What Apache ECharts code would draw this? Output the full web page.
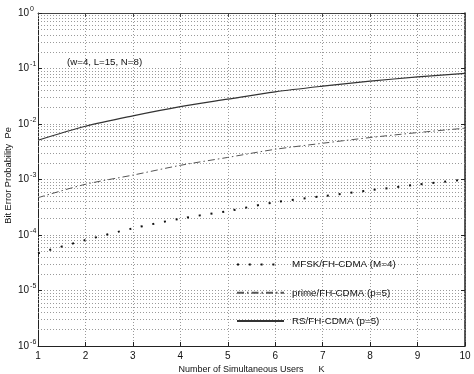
<!DOCTYPE html>
<html>
<head>
<meta charset="utf-8">
<script src="https://cdn.jsdelivr.net/npm/echarts@6/dist/echarts.min.js"></script>
<style>
html,body{margin:0;padding:0;background:#fff;}
#c{width:474px;height:374px;}
</style>
</head>
<body>
<div id="c"></div>
<script>
const K = [1, 2, 3, 4, 5, 6, 7, 8, 9, 10];
const mfsk = [4.7e-5, 8.1e-5, 1.32e-4, 1.97e-4, 2.7e-4, 3.9e-4, 5.0e-4, 6.4e-4, 8.1e-4, 1.0e-3];
const prime = [4.7e-4, 8.2e-4, 1.2e-3, 1.8e-3, 2.5e-3, 3.5e-3, 4.5e-3, 5.7e-3, 7.0e-3, 8.4e-3];
const rs = [5.1e-3, 9.1e-3, 1.4e-2, 2.05e-2, 2.8e-2, 3.8e-2, 4.8e-2, 5.9e-2, 7.05e-2, 8.2e-2];
const names = ['MFSK/FH-CDMA (M=4)', 'prime/FH-CDMA (p=5)', 'RS/FH-CDMA (p=5)'];
const xTicks = ['1', '2', '3', '4', '5', '6', '7', '8', '9', '10'];
const annotation = '(w=4, L=15, N=8)';
const xName = 'Number of Simultaneous Users      K';
const yName = 'Bit Error Probability  Pe';

const FONT = 'Liberation Sans, Arial, Helvetica, sans-serif';
const pairs = arr => K.map((k, i) => [k, arr[i]]);

// minor log grid lines (2..9 x 10^d)
const minorLines = [];
for (let d = -6; d < 0; d++) {
  for (let m = 2; m <= 9; m++) {
    minorLines.push({ yAxis: m * Math.pow(10, d) });
  }
}

const chart = echarts.init(document.getElementById('c'), null, { renderer: 'canvas' });
const gridLine = { show: true, lineStyle: { color: '#9a9a9a', type: [1, 2], width: 1 } };

chart.setOption({
  animation: false,
  backgroundColor: '#fff',
  textStyle: { fontFamily: FONT },
  grid: { left: 38, right: 9, top: 13, bottom: 28, containLabel: false, outerBoundsMode: 'none' },
  legend: {
    orient: 'vertical',
    left: 231,
    top: 254,
    itemWidth: 47,
    itemHeight: 14,
    itemGap: 17,
    data: names,
    itemStyle: { opacity: 0 },
    textStyle: { fontFamily: FONT, fontSize: 9.8, color: '#111', padding: [0, 0, 0, 3] },
    backgroundColor: 'transparent'
  },
  graphic: [{
    type: 'text',
    left: 67,
    top: 57,
    style: { text: annotation, font: '9.7px ' + FONT, fill: '#111' },
    z: 10
  }],
  xAxis: [{
    type: 'value', min: 1, max: 10, interval: 1,
    name: xName, nameLocation: 'middle', nameGap: 19, nameMoveOverlap: false,
    nameTextStyle: { fontFamily: FONT, fontSize: 9, color: '#111' },
    axisLine: { show: true, lineStyle: { color: '#222', width: 1 } },
    axisTick: { show: true, inside: true, length: 4, lineStyle: { color: '#222' } },
    axisLabel: { fontFamily: FONT, fontSize: 10, color: '#111', margin: 5,
      formatter: v => xTicks[v - 1] },
    splitLine: gridLine
  }, {
    type: 'value', min: 1, max: 10, interval: 1, position: 'top',
    axisLine: { show: true, lineStyle: { color: '#444', width: 1 } },
    axisTick: { show: true, inside: true, length: 4, lineStyle: { color: '#444' } },
    axisLabel: { show: false },
    splitLine: { show: false }
  }],
  yAxis: [{
    type: 'log', logBase: 10, min: 1e-6, max: 1, interval: 1,
    name: yName, nameLocation: 'middle', nameGap: 25, nameRotate: 90, nameMoveOverlap: false,
    nameTextStyle: { fontFamily: FONT, fontSize: 9.3, color: '#111', padding: [0, 0, 0, 8] },
    axisLine: { show: true, lineStyle: { color: '#222', width: 1 } },
    axisTick: { show: true, inside: true, length: 4, lineStyle: { color: '#222' } },
    axisLabel: {
      align: 'left', margin: 20,
      formatter: v => '{b|10}{e|' + Math.round(Math.log10(v)) + '}',
      rich: {
        b: { fontFamily: FONT, fontSize: 10, color: '#111' },
        e: { fontFamily: FONT, fontSize: 7, color: '#111', padding: [0, 0, 8, 1] }
      }
    },
    splitLine: gridLine
  }, {
    type: 'log', logBase: 10, min: 1e-6, max: 1, interval: 1, position: 'right',
    axisLine: { show: true, lineStyle: { color: '#222', width: 1.5 } },
    axisTick: { show: true, inside: true, length: 4, lineStyle: { color: '#222' } },
    axisLabel: { show: false },
    splitLine: { show: false }
  }],
  series: [{
    name: names[0], type: 'line', data: pairs(mfsk), smooth: 0.3,
    showSymbol: false, symbol: 'none',
    lineStyle: { color: '#111', width: 2, type: [2, 9.8], cap: 'butt' },
    itemStyle: { color: '#111' }, z: 5
  }, {
    name: names[1], type: 'line', data: pairs(prime), smooth: 0.3,
    showSymbol: false, symbol: 'none',
    lineStyle: { color: '#555', width: 1, type: [7, 3, 1.5, 3] },
    itemStyle: { color: '#555' }, z: 5
  }, {
    name: names[2], type: 'line', data: pairs(rs), smooth: 0.3,
    showSymbol: false, symbol: 'none',
    lineStyle: { color: '#333', width: 1.2, type: 'solid' },
    itemStyle: { color: '#333' }, z: 5,
    markLine: {
      silent: true, symbol: 'none', label: { show: false }, precision: 12,
      lineStyle: { color: '#9a9a9a', type: [1, 2], width: 1 },
      data: minorLines, animation: false, z: 1
    }
  }]
});
</script>
</body>
</html>
